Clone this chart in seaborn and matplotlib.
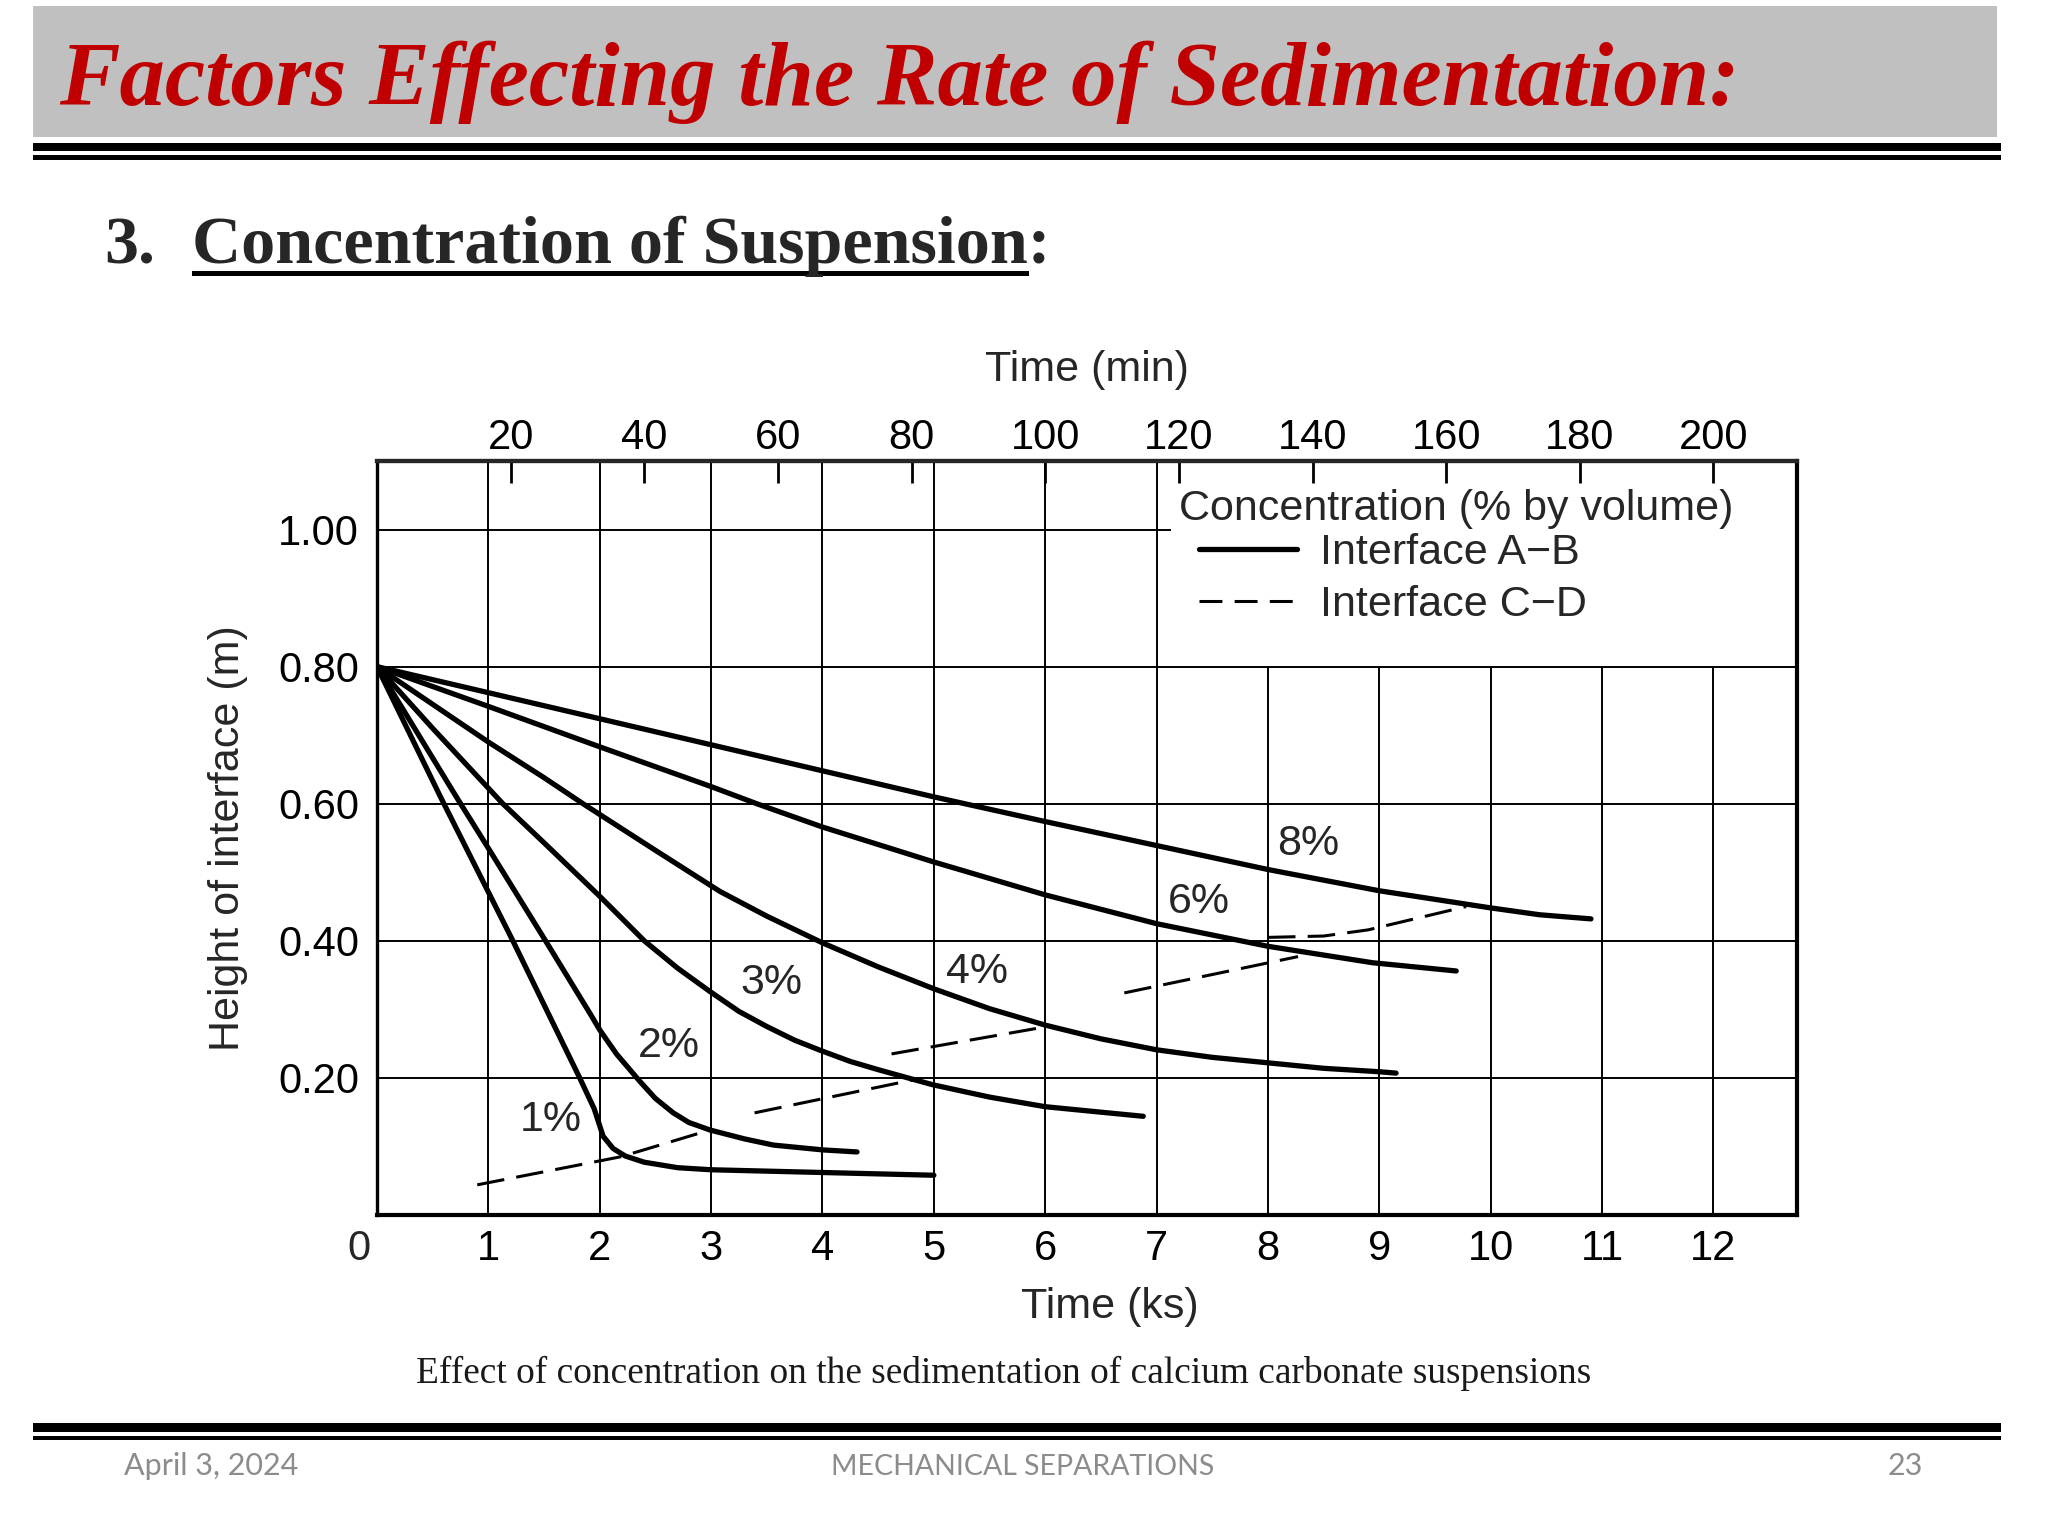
import numpy as np
import pandas as pd
import matplotlib
matplotlib.use("Agg")
import matplotlib.pyplot as plt
from matplotlib.patches import Rectangle
from matplotlib.lines import Line2D
import seaborn as sns

# values: time (ks) vs height of interface (m)
conc_labels = ['1%', '2%', '3%', '4%', '6%', '8%']

t_1 = [0, 0.57, 1.22, 1.82, 1.95, 2.03, 2.12, 2.23, 2.4, 2.7, 3.0, 4.0, 5.0]
h_1 = [0.80, 0.61, 0.40, 0.20, 0.155, 0.115, 0.097, 0.086, 0.077, 0.069, 0.066, 0.062, 0.058]

t_2 = [0, 0.72, 1.0, 1.54, 1.92, 2.0, 2.15, 2.36, 2.5, 2.66, 2.8, 2.99, 3.3, 3.56, 4.0, 4.31]
h_2 = [0.80, 0.608, 0.535, 0.393, 0.292, 0.27, 0.235, 0.195, 0.17, 0.149, 0.135, 0.124, 0.111, 0.102, 0.095, 0.092]

t_3 = [0, 0.5, 1.13, 1.5, 2.0, 2.4, 2.7, 2.99, 3.25, 3.5, 3.75, 4.0, 4.25, 4.5, 4.99, 5.5, 6.0, 6.5, 6.88]
h_3 = [0.80, 0.71, 0.60, 0.543, 0.465, 0.40, 0.36, 0.326, 0.297, 0.275, 0.255, 0.239, 0.224, 0.212, 0.19, 0.172, 0.158, 0.15, 0.144]

t_4 = [0, 0.5, 1.0, 1.5, 1.85, 2.5, 3.08, 3.5, 4.0, 4.5, 5.0, 5.5, 6.0, 6.5, 7.0, 7.5, 8.0, 8.5, 9.0, 9.15]
h_4 = [0.80, 0.745, 0.69, 0.638, 0.60, 0.532, 0.472, 0.436, 0.397, 0.362, 0.330, 0.301, 0.277, 0.257, 0.241, 0.23, 0.222, 0.214, 0.209, 0.207]

t_6 = [0, 1.0, 2.0, 3.0, 3.41, 4.0, 5.0, 6.0, 7.0, 8.0, 8.94, 9.69]
h_6 = [0.80, 0.742, 0.683, 0.625, 0.60, 0.566, 0.515, 0.467, 0.425, 0.392, 0.368, 0.356]

t_8 = [0, 1.0, 2.0, 3.0, 4.0, 5.0, 6.0, 7.0, 8.0, 9.0, 10.0, 10.44, 10.9]
h_8 = [0.80, 0.762, 0.724, 0.686, 0.648, 0.61, 0.574, 0.539, 0.504, 0.473, 0.448, 0.438, 0.432]

# dashed pieces (interface C-D)
cd_names = ['2%', '3%', '4%', '6%', '8%']
cd_t = [[0.9, 2.19, 2.99], [3.39, 4.81], [4.62, 5.95], [6.71, 8.27], [8.0, 8.5, 8.9, 9.78]]
cd_h = [[0.044, 0.085, 0.124], [0.149, 0.197], [0.235, 0.273], [0.324, 0.377], [0.405, 0.407, 0.416, 0.45]]

# label spots for the % tags
tag_x = [1.56, 2.62, 3.54, 5.39, 7.38, 8.36]
tag_y = [0.138, 0.247, 0.338, 0.354, 0.457, 0.541]

x_ticks = list(range(1, 13))
y_ticks = [0.20, 0.40, 0.60, 0.80, 1.00]
min_ticks = list(range(20, 201, 20))

ab_t = [t_1, t_2, t_3, t_4, t_6, t_8]
ab_h = [h_1, h_2, h_3, h_4, h_6, h_8]
df_ab = pd.concat([pd.DataFrame({'t': t, 'h': h, 'conc': c})
                   for c, t, h in zip(conc_labels, ab_t, ab_h)], ignore_index=True)
df_cd = pd.concat([pd.DataFrame({'t': t, 'h': h, 'conc': c})
                   for c, t, h in zip(cd_names, cd_t, cd_h)], ignore_index=True)

sns.set_style('white')
plt.rcParams['font.family'] = ['Liberation Sans', 'DejaVu Sans']

fig = plt.figure(figsize=(20.48, 15.36), dpi=100)

# slide background, pixel coordinates
bg = fig.add_axes([0, 0, 1, 1], zorder=0)
bg.set_xlim(0, 2048)
bg.set_ylim(1536, 0)
bg.axis('off')
bg.add_patch(Rectangle((33, 6), 1964, 131, color='#C0C0C0', lw=0))
bg.add_patch(Rectangle((33, 143), 1968, 8, color='black', lw=0))
bg.add_patch(Rectangle((33, 155), 1968, 5, color='black', lw=0))
bg.text(59, 105, 'Factors Effecting the Rate of Sedimentation:', fontsize=65.3,
        family='Liberation Serif', weight='bold', style='italic', color='#C00000', va='baseline')
bg.text(104, 263, '3.', fontsize=49, family='Liberation Serif', weight='bold', va='baseline')
bg.text(192, 263, 'Concentration of Suspension:', fontsize=49, family='Liberation Serif',
        weight='bold', va='baseline')
bg.add_patch(Rectangle((192, 271), 837, 5, color='black', lw=0))
bg.text(1004, 1383, 'Effect of concentration on the sedimentation of calcium carbonate suspensions',
        fontsize=26.9, family='Liberation Serif', color='#1a1a1a', ha='center', va='baseline')
bg.add_patch(Rectangle((33, 1423), 1968, 9, color='black', lw=0))
bg.add_patch(Rectangle((33, 1436), 1968, 4, color='black', lw=0))
foot = dict(family='Lato', color='#8c8c8c', va='baseline')
bg.text(124, 1475, 'April 3, 2024', ha='left', fontsize=22, **foot)
bg.text(1023, 1475, 'MECHANICAL SEPARATIONS', ha='center', fontsize=20.5, **foot)
bg.text(1923, 1475, '23', ha='right', fontsize=22, **foot)

# chart
ax = fig.add_axes([377 / 2048, 1 - 1215 / 1536, 1420 / 2048, 754 / 1536], zorder=1)
sns.lineplot(data=df_ab, x='t', y='h', units='conc', estimator=None, color='black',
             lw=3.8, ax=ax, legend=False, zorder=3)
sns.lineplot(data=df_cd, x='t', y='h', units='conc', estimator=None, color='black',
             lw=2.2, linestyle=(0, (9, 4)), ax=ax, legend=False, zorder=3)

x_max, y_max = 12.75, 1.10
ax.set_xlim(0, x_max)
ax.set_ylim(0, y_max)
ax.set_xticks(x_ticks)
ax.set_yticks(y_ticks)
ax.set_yticklabels([f'{v:.2f}' for v in y_ticks])

# grid drawn by hand so the legend corner stays blank
legend_left, legend_bottom = 7.13, 0.80
for xv in x_ticks:
    ax.vlines(xv, 0, y_max if xv < legend_left else legend_bottom, color='black', lw=1.4, zorder=0.5)
for yv in y_ticks:
    ax.hlines(yv, 0, legend_left if yv > legend_bottom else x_max, color='black', lw=1.4, zorder=0.5)

ax.tick_params(axis='both', length=0, labelsize=30, colors='black')
ax.tick_params(axis='x', pad=10)
ax.tick_params(axis='y', pad=13)
for side, w in [('left', 2.4), ('bottom', 3.0), ('right', 3.0), ('top', 3.0)]:
    ax.spines[side].set_color('black')
    ax.spines[side].set_linewidth(w)

ax.set_xlabel('Time (ks)', fontsize=31)
ax.set_ylabel('Height of interface (m)', fontsize=31)
ax.xaxis.set_label_coords((1110 - 377) / 1420, -0.122)
ax.xaxis.label.set_va('center')
ax.yaxis.set_label_coords(-0.105, 0.5)
ax.yaxis.label.set_va('center')
ax.text(-0.16, -0.05, '0', fontsize=30, ha='center', va='center', clip_on=False)

secax = ax.secondary_xaxis('top', functions=(lambda x: x * 1000 / 60, lambda m: m * 60 / 1000))
secax.set_zorder(2.6)
secax.set_xticks(min_ticks)
secax.tick_params(direction='in', length=16, width=2, labelsize=30, pad=2, colors='black')
secax.spines['top'].set_linewidth(3.0)
secax.set_xlabel('Time (min)', fontsize=31, labelpad=27)

for lab, x, y in zip(conc_labels, tag_x, tag_y):
    ax.text(x, y, lab, fontsize=31, ha='center', va='center', zorder=4)

ax.text(7.2, 1.030, 'Concentration (% by volume)', fontsize=31, ha='left', va='center', zorder=4)
handles = [Line2D([], [], color='black', lw=3.8),
           Line2D([], [], color='black', lw=2.2, linestyle=(0, (7.5, 4)))]
ax.legend(handles, ['Interface A\u2212B', 'Interface C\u2212D'], loc='upper left',
          bbox_to_anchor=(7.38 / 12.75, 0.905), frameon=False, fontsize=31,
          handlelength=2.28, handletextpad=0.53, labelspacing=0.29, borderpad=0, borderaxespad=0)

fig.savefig('out.png', dpi=100, facecolor='white')
